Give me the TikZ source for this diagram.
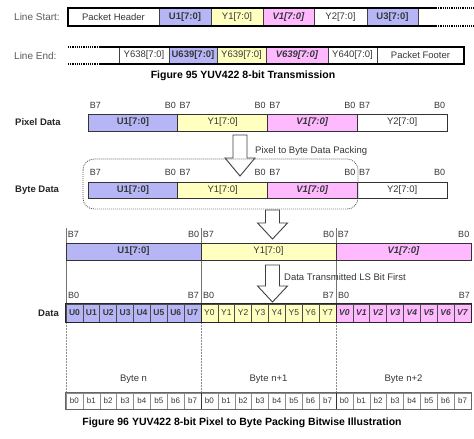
\documentclass[tikz,border=0pt]{standalone}
\usepackage{fontspec}
\setmainfont{Liberation Sans}
\usetikzlibrary{calc}
\definecolor{ucol}{RGB}{182,182,246}
\definecolor{ycol}{RGB}{255,255,192}
\definecolor{vcol}{RGB}{255,186,255}
\definecolor{txt}{RGB}{55,55,55}
\definecolor{lbl}{RGB}{90,90,90}
\newcommand\hollowarrow[5]{%
  \draw[hollow] (#1-7,#2) -- (#1+7,#2) -- (#1+7,#3) -- (#1+15,#3) -- (#1,#4) -- (#1-15,#3) -- (#1-7,#3) -- cycle;
  \coordinate (#5) at (#1,#4);}
\begin{document}
\begin{tikzpicture}[x=1pt,y=-1pt,
  every node/.style={text=txt, inner sep=0pt, font=\fontsize{9.5}{11}\selectfont},
  cell/.style={draw=black!75, line width=0.7pt, minimum height=#1},
  cell/.default=17pt,
  outer/.style={draw=black, line width=1.4pt},
  outerdot/.style={draw=black, line width=1.4pt, dash pattern=on 1.2pt off 1pt},
  brow/.style={draw=black!80, line width=0.9pt, minimum height=#1},
  brow/.default=17pt,
  dcell/.style={draw=black!70, line width=0.6pt, minimum height=18pt, minimum width=16.875pt, font=\fontsize{8.5}{10}\selectfont},
  bcell/.style={draw=black!45, line width=0.5pt, minimum height=16pt, minimum width=16.875pt, font=\fontsize{8}{10}\selectfont},
  side/.style={text=lbl, font=\fontsize{10}{12}\selectfont, anchor=west},
  rowlbl/.style={text=black!85, font=\bfseries\fontsize{9.5}{11}\selectfont, anchor=west},
  bl/.style={font=\fontsize{9}{11}\selectfont},
  figcap/.style={text=black, font=\bfseries\fontsize{10.5}{12}\selectfont},
  note/.style={text=txt, font=\fontsize{9.5}{11}\selectfont, anchor=west},
  hollow/.style={draw=black!75, fill=white, line width=0.9pt, line join=miter},
  guide/.style={draw=black!55, line width=0.6pt},
  guided/.style={draw=black!45, line width=0.6pt, dash pattern=on 2pt off 1pt}
]
\useasboundingbox[fill=white] (0,0) rectangle (474,439);

% ---------- Line Start ----------
\node[side] (ls) at (14,17) {Line Start:};
\node[cell=18pt, fill=white, minimum width=91pt] (ph) at (113.5,17) {Packet Header};
\node[cell=18pt, fill=ucol, minimum width=52pt] (s1) at (185,17) {\textbf{U1[7:0]}};
\node[cell=18pt, fill=ycol, minimum width=52pt] (s2) at (237,17) {Y1[7:0]};
\node[cell=18pt, fill=vcol, minimum width=51pt] (s3) at (288.5,17) {\textbf{\textit{V1[7:0]}}};
\node[cell=18pt, fill=white, minimum width=53pt] (s4) at (340.5,17) {Y2[7:0]};
\node[cell=18pt, fill=ucol, minimum width=51pt] (s5) at (392.5,17) {\textbf{U3[7:0]}};
\draw[outer] (436,8) -- (68,8) -- (68,26) -- (436,26);
\draw[outerdot] (436,8) -- (474,8);
\draw[outerdot] (436,26) -- (474,26);

% ---------- Line End ----------
\node[side] (le) at (14,55.5) {Line End:};
\node[cell, fill=white, minimum width=50pt] (e1) at (144,55.5) {Y638[7:0]};
\node[cell, fill=ucol, minimum width=48pt] (e2) at (193,55.5) {\textbf{U639[7:0]}};
\node[cell, fill=ycol, minimum width=49pt] (e3) at (241.5,55.5) {Y639[7:0]};
\node[cell, fill=vcol, minimum width=62pt] (e4) at (297,55.5) {\textbf{\textit{V639[7:0]}}};
\node[cell, fill=white, minimum width=49pt] (e5) at (352.5,55.5) {Y640[7:0]};
\node[cell, fill=white, minimum width=87pt] (e6) at (420.5,55.5) {Packet Footer};
\draw[outerdot] (68,47) -- (100,47);
\draw[outerdot] (68,64) -- (100,64);
\draw[outer] (100,47) -- (464,47) -- (464,64) -- (100,64);

\node[figcap] (cap95) at (243,75.5) {Figure 95 YUV422 8-bit Transmission};

% ---------- Pixel Data ----------
\node[rowlbl] (pdl) at (15,122.5) {Pixel Data};
\node[brow, fill=ucol, minimum width=89.75pt] (p1) at (132.875,122.5) {\textbf{U1[7:0]}};
\node[brow, fill=ycol, minimum width=89.75pt] (p2) at (222.625,122.5) {Y1[7:0]};
\node[brow, fill=vcol, minimum width=89.75pt] (p3) at (312.375,122.5) {\textbf{\textit{V1[7:0]}}};
\node[brow, fill=white, minimum width=89.75pt] (p4) at (402.125,122.5) {Y2[7:0]};
\foreach \n in {1,...,4} {
  \node[bl, anchor=west] (pb7\n) at ($(p\n.north west)+(2,-8.5)$) {B7};
  \node[bl, anchor=east] (pb0\n) at ($(p\n.north east)+(-2,-8.5)$) {B0};
}

% arrow 1
\hollowarrow{240}{135}{158}{176}{a1}
\node[note] (pk) at (255,151) {Pixel to Byte Data Packing};

% ---------- Byte Data ----------
\node[rowlbl] (bdl) at (15,190) {Byte Data};
\node[brow=16pt, fill=ucol, minimum width=89.75pt] (q1) at (132.875,190) {\textbf{U1[7:0]}};
\node[brow=16pt, fill=ycol, minimum width=89.75pt] (q2) at (222.625,190) {Y1[7:0]};
\node[brow=16pt, fill=vcol, minimum width=89.75pt] (q3) at (312.375,190) {\textbf{\textit{V1[7:0]}}};
\node[brow=16pt, fill=white, minimum width=89.75pt] (q4) at (402.125,190) {Y2[7:0]};
\foreach \n in {1,...,4} {
  \node[bl, anchor=west] (qb7\n) at ($(q\n.north west)+(2,-9)$) {B7};
  \node[bl, anchor=east] (qb0\n) at ($(q\n.north east)+(-2,-9)$) {B0};
}
\draw[black!70, line width=0.8pt, dash pattern=on 0.9pt off 1.1pt, rounded corners=11pt] (83,159) rectangle (358,209);

% arrow 2
\hollowarrow{272.5}{210}{223}{239}{a2}

% ---------- guides ----------
\foreach \gx in {66,201,336} {
  \draw[guide] (\gx,228) -- (\gx,304);
  \draw[guided] (\gx,322) -- (\gx,393);
}

% ---------- Big rows ----------
\node[brow, fill=ucol, minimum width=135pt] (r1) at (133.5,251.5) {\textbf{U1[7:0]}};
\node[brow, fill=ycol, minimum width=135pt] (r2) at (268.5,251.5) {Y1[7:0]};
\node[brow, fill=vcol, minimum width=135pt] (r3) at (403.5,251.5) {\textbf{\textit{V1[7:0]}}};
\foreach \n in {1,2,3} {
  \node[bl, anchor=west] (rb7\n) at ($(r\n.north west)+(2,-8)$) {B7};
  \node[bl, anchor=east] (rb0\n) at ($(r\n.north east)+(-2,-8)$) {B0};
}

% arrow 3
\hollowarrow{272.5}{265}{286}{302}{a3}
\node[note] (ls1) at (284,277) {Data Transmitted LS Bit First};

% ---------- Data row ----------
\node[rowlbl] (dl) at (38,313) {Data};
\foreach \i in {0,...,7} {
  \node[dcell, fill=ucol] (du\i) at ({66+16.875*(\i+0.5)},313) {\textbf{U\i}};
  \node[dcell, fill=ycol] (dy\i) at ({201+16.875*(\i+0.5)},313) {Y\i};
  \node[dcell, fill=vcol] (dv\i) at ({336+16.875*(\i+0.5)},313) {\textbf{\textit{V\i}}};
}
\draw[black!85, line width=0.9pt] (du0.north west) rectangle (dv7.south east);
\draw[black!85, line width=0.9pt] (du7.north east) -- (du7.south east);
\draw[black!85, line width=0.9pt] (dy7.north east) -- (dy7.south east);
\node[bl, anchor=west] (db0a) at (68,295) {B0};
\node[bl, anchor=east] (db7a) at (199,295) {B7};
\node[bl, anchor=west] (db0b) at (203,295) {B0};
\node[bl, anchor=east] (db7b) at (334,295) {B7};
\node[bl, anchor=west] (db0c) at (338,295) {B0};
\node[bl, anchor=east] (db7c) at (470,295) {B7};

% ---------- Byte labels ----------
\node[font=\fontsize{9.5}{11}\selectfont] (bn0) at (133.5,379) {Byte n};
\node[font=\fontsize{9.5}{11}\selectfont] (bn1) at (268.5,379) {Byte n+1};
\node[font=\fontsize{9.5}{11}\selectfont] (bn2) at (403.5,379) {Byte n+2};

% ---------- bit row ----------
\foreach \g in {0,1,2} {
  \foreach \i in {0,...,7} {
    \node[bcell, fill=white] (bit\g\i) at ({66+135*\g+16.875*(\i+0.5)},401) {b\i};
  }
}
\draw[black!60, line width=0.6pt] (bit00.north west) rectangle (bit27.south east);
\draw[black!80, line width=0.9pt] (bit07.north east) -- (bit07.south east);
\draw[black!80, line width=0.9pt] (bit17.north east) -- (bit17.south east);

\node[figcap] (cap96) at (242,422.5) {Figure 96 YUV422 8-bit Pixel to Byte Packing Bitwise Illustration};
\end{tikzpicture}
\end{document}
